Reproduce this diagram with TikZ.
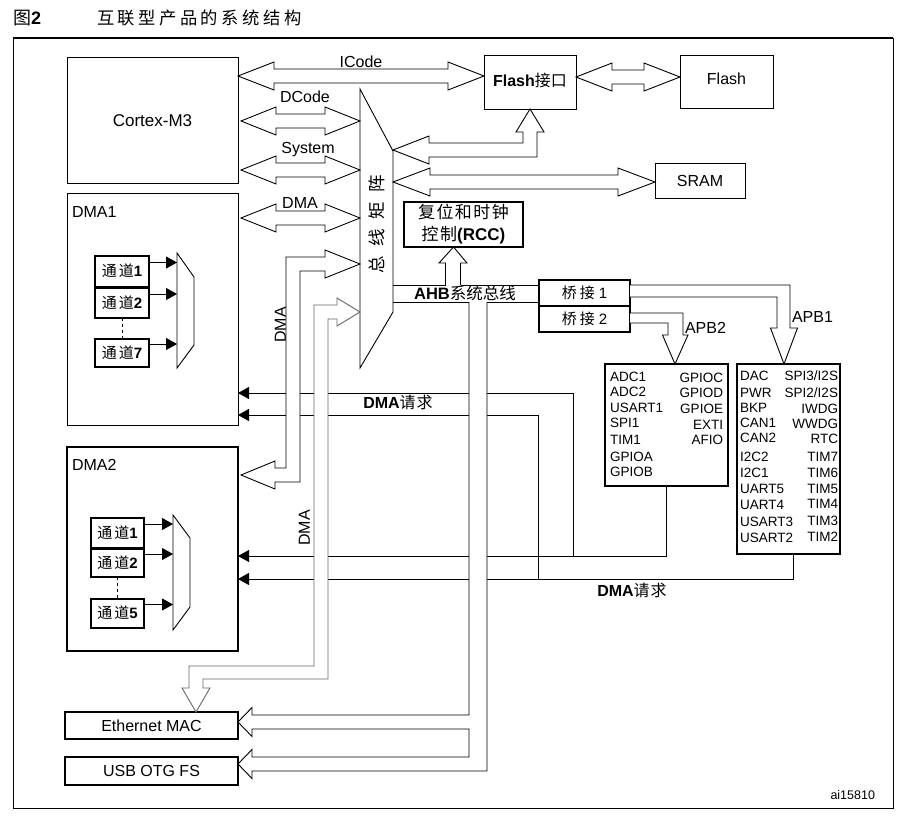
\documentclass[tikz,border=0pt]{standalone}
\usepackage{fontspec}
\setmainfont{Liberation Sans}
\newfontfamily\cjk{Noto Sans CJK SC}
\usetikzlibrary{arrows.meta,calc}
\newcommand\fsz[1]{\fontsize{#1pt}{#1pt}\selectfont}
\newcommand\chan[1]{{\cjk 通\hspace{2pt}道}\textbf{#1}}
\newcommand\gapA{\hspace{3.5pt}}
\newcommand\hdarrow[4]{%
  \draw[warrow] let \p1=(#1), \p2=(#2), \p3=(0,#3) in
   (\x1,\y3) -- (\x1+#4pt,\y3+14pt) -- (\x1+#4pt,\y3+7pt) -- (\x2-#4pt,\y3+7pt)
   -- (\x2-#4pt,\y3+14pt) -- (\x2,\y3) -- (\x2-#4pt,\y3-14pt) -- (\x2-#4pt,\y3-7pt)
   -- (\x1+#4pt,\y3-7pt) -- (\x1+#4pt,\y3-14pt) -- cycle;}
\begin{document}
\begin{tikzpicture}[x=1pt,y=-1pt,
  every node/.style={inner sep=0pt,outer sep=0pt},
  thin/.style={line width=0.9pt},
  lbl/.style={font={\fsz{16}},text height=11.5pt,text depth=0pt},
  small/.style={font={\fsz{13.5}},text height=9.7pt,text depth=0pt},
  box/.style={draw,line width=0.9pt,anchor=north west,fill=white,lbl},
  tbox/.style={box,line width=2.4pt},
  chbox/.style={box,line width=1.1pt,font={\fsz{15}},text height=10.8pt},
  warrow/.style={draw,fill=white,line width=0.9pt,line join=miter},
  req/.style={line width=0.9pt,-{Triangle[length=11pt,width=12pt]}}
]
\useasboundingbox (0,0) rectangle (911,815);
\fill[white] (0,0) rectangle (911,815);

% frame and title
\draw[thin] (13,38) rectangle (893,808);
\draw[line width=1.6pt] (13,38) -- (893,38);
\node[anchor=west,font={\fsz{18}}] (fig) at (13,18) {{\cjk 图}\textbf{2}};
\node[anchor=west,font={\cjk\fsz{17.3}}] (title) at (97,18) {互\gapA 联\gapA 型\gapA 产\gapA 品\gapA 的\gapA 系\gapA 统\gapA 结\gapA 构};
\node[anchor=east,font={\fsz{12.5}}] (ai) at (875,795) {ai15810};

% boxes
\node[box,minimum width=171pt,minimum height=126pt,font={\fsz{17}},text height=12.2pt] (cortex) at (67,57) {Cortex-M3};
\node[box,minimum width=171pt,minimum height=232pt] (dma1) at (67,193) {};
\node[lbl,anchor=west] (dma1l) at (72,212) {DMA1};
\node[tbox,minimum width=171pt,minimum height=204pt] (dma2) at (67,447) {};
\node[lbl,anchor=west] (dma2l) at (72,465) {DMA2};

\node[chbox,minimum width=54pt,minimum height=31pt] (c11) at (95,256) {\chan{1}};
\node[chbox,minimum width=54pt,minimum height=30pt] (c12) at (95,288) {\chan{2}};
\node[chbox,minimum width=54pt,minimum height=28pt] (c17) at (95,339) {\chan{7}};
\node[chbox,minimum width=53pt,minimum height=30pt] (c21) at (91,518) {\chan{1}};
\node[chbox,minimum width=53pt,minimum height=28pt] (c22) at (91,549) {\chan{2}};
\node[chbox,minimum width=53pt,minimum height=29pt] (c25) at (91,599) {\chan{5}};

\draw[thin] (177,253) coordinate (mux1) -- (194,277) -- (194,345) -- (177,368) -- cycle;
\draw[thin] (173,515) coordinate (mux2) -- (190,538) -- (190,607) -- (173,630) -- cycle;
\foreach \c in {c11,c12,c17}
  \draw[req] ($(\c.east)+(0,-9)$) -- ($(mux1 |- \c.east)+(0,-9)$);
\foreach \c in {c21,c22,c25}
  \draw[req] ($(\c.east)+(0,-9)$) -- ($(mux2 |- \c.east)+(0,-9)$);
\draw[thin,dash pattern=on 3pt off 3pt] (c12.south) -- (c17.north);
\draw[thin,dash pattern=on 3pt off 3pt] (c22.south) -- (c25.north);

\node[box,minimum width=92pt,minimum height=54pt,text depth=3pt] (flashif) at (484,55) {{\bfseries Flash}{\cjk 接口}};
\node[box,minimum width=93pt,minimum height=53pt,text depth=6pt] (flash) at (680,55) {Flash};
\node[box,minimum width=90pt,minimum height=35pt] (sram) at (655,163) {SRAM};
\node[draw,line width=2.4pt,anchor=north west,minimum width=119pt,minimum height=45pt,
      align=center,font={\fontsize{17pt}{22pt}\selectfont}] (rcc) at (404,202)
  {{\cjk 复\hspace{1.5pt}位\hspace{1.5pt}和\hspace{1.5pt}时\hspace{1.5pt}钟}\\{\cjk 控\hspace{1.5pt}制}\textbf{(RCC)}};
\node[box,line width=1.1pt,minimum width=91pt,minimum height=26pt,font={\fsz{15}},text height=10.8pt] (br1) at (539,280) {{\cjk 桥\hspace{3pt}接}\hspace{4pt}1};
\node[box,line width=1.1pt,minimum width=91pt,minimum height=26pt,font={\fsz{15}},text height=10.8pt] (br2) at (539,306) {{\cjk 桥\hspace{3pt}接}\hspace{4pt}2};
\node[tbox,minimum width=123pt,minimum height=122pt] (apb2) at (605,364) {};
\node[tbox,minimum width=103pt,minimum height=190pt] (apb1) at (737,364) {};
\node[tbox,minimum width=173pt,minimum height=27pt] (eth) at (65,712) {Ethernet MAC};
\node[tbox,minimum width=173pt,minimum height=28pt] (usb) at (65,757) {USB OTG FS};

% peripherals
\foreach \t/\y [count=\i] in {ADC1/377,ADC2/392,USART1/408,SPI1/423,TIM1/440,GPIOA/457,GPIOB/472}
  \node[small,anchor=west] (p2l\i) at (610,\y) {\t};
\foreach \t/\y [count=\i] in {GPIOC/378,GPIOD/393,GPIOE/409,EXTI/425,AFIO/440}
  \node[small,anchor=east] (p2r\i) at (723,\y) {\t};
\foreach \t/\y [count=\i] in {DAC/376,PWR/393,BKP/408,CAN1/423,CAN2/438,I2C2/457,I2C1/473,UART5/489,UART4/505,USART3/522,USART2/538}
  \node[small,anchor=west] (p1l\i) at (740,\y) {\t};
\node[small,anchor=east] (p1r1) at (838,376) {SPI3/I2S};
\node[small,anchor=east] (p1r2) at (838,393) {SPI2/I2S};
\foreach \t/\y [count=\i from 3] in {IWDG/409,WWDG/424,RTC/439,TIM7/457,TIM6/473,TIM5/489,TIM4/504,TIM3/521,TIM2/537}
  \node[small,anchor=east] (p1r\i) at (838,\y) {\t};

% bus matrix
\draw[thin,fill=white] (360,89) coordinate (bmTL) -- (393,151) coordinate (bmR) -- (393,312) -- (360,368) -- cycle;
\node[rotate=90,font={\cjk\fsz{17.5}}] (bmtext) at (377,224) {总\hspace{9.5pt}线\hspace{9.5pt}矩\hspace{9.5pt}阵};

% DMA request lines
\draw[req] (apb2.south) |- (dma2.east |- 0,556);
\draw[req] (573,556) coordinate (j1) |- (dma1.east |- 0,393);
\draw[req] ($(apb1.south)+(4.5,0)$) |- (dma2.east |- 0,579);
\draw[req] (538,579) coordinate (j2) |- (dma1.east |- 0,415);

% wide bus arrows
\hdarrow{cortex.east}{flashif.west}{76}{36}
\hdarrow{$(cortex.east)+(3,0)$}{bmTL}{121}{35}
\hdarrow{$(cortex.east)+(3,0)$}{bmTL}{170}{35}
\hdarrow{$(dma1.east)+(3,0)$}{bmTL}{218}{35}
\hdarrow{flashif.east}{flash.west}{77}{36}
\hdarrow{bmR}{sram.west}{182}{37}

\draw[warrow] let \p1=(bmR), \p2=(flashif.south) in
 (\x1,\y1+1pt) -- (\x1+36pt,\y1+15pt) -- (\x1+36pt,\y1+8pt) -- (\x2-7pt,\y1+8pt) -- (\x2-7pt,\y2-23pt)
 -- (\x2-14pt,\y2-23pt) -- (\x2,\y2) -- (\x2+14pt,\y2-23pt) -- (\x2+7pt,\y2-23pt) -- (\x2+7pt,\y1-6pt)
 -- (\x1+36pt,\y1-6pt) -- (\x1+36pt,\y1-13pt) -- cycle;

% AHB bus
\coordinate (ahbT) at (393,285);
\coordinate (ahbB) at (393,302);
\draw[thin] (ahbT) -- (445.5,285);
\draw[thin] (460.5,285) -- (ahbT -| br1.west);
\draw[thin] (ahbB) -- (469,302);
\draw[thin] (487,302) -- (ahbB -| br1.west);
\coordinate (rt) at ($(rcc.south)+(-10,0)$);
\fill[white] (445.5,285) -- (445.5,263) -- (439,263) -- (rt) -- (467,263) -- (460.5,263) -- (460.5,285) -- cycle;
\draw[thin,line join=miter] (445.5,285) -- (445.5,263) -- (439,263) -- (rt) -- (467,263) -- (460.5,263) -- (460.5,285);
\node[font={\fsz{16.5}},text height=11.8pt,text depth=0pt] (ahbl) at (465,294) {{\bfseries AHB}{\cjk 系统总线}};

% AHB to Ethernet / USB
\coordinate (et) at (eth.east |- 0,722);
\coordinate (ut) at (usb.east |- 0,764);
\fill[white] (469,302) -- (469,715) -- (252,715) -- (252,707.5) -- (et) -- (252,736.5) -- (252,729) -- (469,729)
  -- (469,757) -- (252,757) -- (252,749.5) -- (ut) -- (252,778.5) -- (252,771) -- (487,771) -- (487,302) -- cycle;
\draw[thin,line join=miter] (469,302) -- (469,715) -- (252,715) -- (252,707.5) -- (et) -- (252,736.5) -- (252,729) -- (469,729)
  -- (469,757) -- (252,757) -- (252,749.5) -- (ut) -- (252,778.5) -- (252,771) -- (487,771) -- (487,302);

% APB buses
\coordinate (a1t) at ($(apb1.north west)+(47,0)$);
\fill[white] (br1.east |- 0,285) -- (790,285) -- (790,328) -- (797.5,328) -- (a1t) -- (770.5,328) -- (777,328) -- (777,297) -- (br1.east |- 0,297) -- cycle;
\draw[thin,line join=miter] (br1.east |- 0,285) -- (790,285) -- (790,328) -- (797.5,328) -- (a1t) -- (770.5,328) -- (777,328) -- (777,297) -- (br1.east |- 0,297);
\coordinate (a2t) at ($(apb2.north west)+(70,0)$);
\fill[white] (br2.east |- 0,313) -- (683,313) -- (683,335) -- (688,335) -- (a2t) -- (662.5,335) -- (668,335) -- (668,323) -- (br2.east |- 0,323) -- cycle;
\draw[thin,line join=miter] (br2.east |- 0,313) -- (683,313) -- (683,335) -- (688,335) -- (a2t) -- (662.5,335) -- (668,335) -- (668,323) -- (br2.east |- 0,323);
\node[lbl,anchor=west] (apb1l) at (792,317) {APB1};
\node[lbl,anchor=west] (apb2l) at (685,328) {APB2};

% DMA bus arrows
\coordinate (d2t) at ($(dma2.east |- 0,475)+(3,0)$);
\draw[warrow] (bmTL |- 0,264) -- (325,250) -- (325,257) -- (286,257) -- (286,468) -- (275,468) -- (275,461) -- (d2t)
  -- (275,489) -- (275,482) -- (300,482) -- (300,271) -- (325,271) -- (325,278) -- cycle;
\coordinate (ett) at ($(eth.north west)+(131,0)$);
\draw[warrow,draw=black!60] (bmTL |- 0,312) -- (337,298) -- (337,305) -- (314,305) -- (314,666) -- (189,666) -- (189,688)
  -- (182,688) -- (ett) -- (210,688) -- (203,688) -- (203,679) -- (328,679) -- (328,319) -- (337,319) -- (337,326) -- cycle;

% labels
\node[lbl] (icl) at (361,62) {ICode};
\node[lbl] (dcl) at (305,97) {DCode};
\node[lbl] (syl) at (308,148) {System};
\node[lbl] (dml) at (300,203) {DMA};
\node[lbl,rotate=90] (dmv1) at (280,325) {DMA};
\node[lbl,rotate=90] (dmv2) at (304,528) {DMA};
\node[font={\fsz{16}},text height=11.5pt,text depth=0pt] (rq1) at (398,403) {{\bfseries DMA}{\cjk 请\hspace{1pt}求}};
\node[font={\fsz{16}},text height=11.5pt,text depth=0pt] (rq2) at (632,591) {{\bfseries DMA}{\cjk 请\hspace{1pt}求}};
\end{tikzpicture}
\end{document}
